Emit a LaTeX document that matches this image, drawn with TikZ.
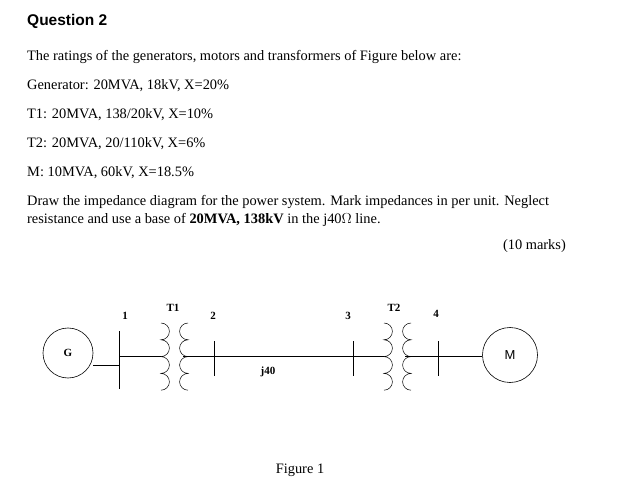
\documentclass[tikz,border=0pt]{standalone}
\usepackage{fontspec}
\setmainfont{Liberation Serif}
\newfontfamily\hd{Liberation Sans}
\begin{document}
\begin{tikzpicture}[x=1pt,y=-1pt,
  txt/.style={anchor=west,inner sep=0,font=\fontsize{14.4}{16}\selectfont},
  lbl/.style={inner sep=0,font=\bfseries\fontsize{11}{12}\selectfont},
  bus/.style={line width=0.8pt},
  wire/.style={line width=0.9pt},
  coil/.style={line width=0.5pt}]
\useasboundingbox (0,0) rectangle (639,502);
\node[txt,font=\hd\bfseries\fontsize{15.5}{17}\selectfont] (q) at (27,21) {Question 2};
\node[txt] (l1) at (27,57) {The ratings of the generators, motors and transformers of Figure below are:};
\node[txt] (l2) at (27,86) {Generator: 20MVA, 18kV, X=20\%};
\node[txt] (l3) at (27,115) {T1: 20MVA, 138/20kV, X=10\%};
\node[txt] (l4) at (27,144) {T2: 20MVA, 20/110kV, X=6\%};
\node[txt] (l5) at (27,173) {M: 10MVA, 60kV, X=18.5\%};
\node[txt] (l6) at (27,202) {Draw the impedance diagram for the power system. Mark impedances in per unit. Neglect};
\node[txt] (l7) at (27,220) {resistance and use a base of \textbf{20MVA, 138kV} in the j40$\Omega$ line.};
\node[txt,anchor=east] (mk) at (566,246) {(10 marks)};
% machines
\node[draw,circle,minimum size=50,inner sep=0,line width=0.6pt] (G) at (68,353) {\bfseries\fontsize{11}{12}\selectfont G};
\node[draw,circle,minimum size=55,inner sep=0,line width=0.6pt] (M) at (510,355) {\hd\fontsize{13}{14}\selectfont M};
% buses
\coordinate (b1t) at (119,331); \coordinate (b1b) at (119,389);
\coordinate (b2t) at (214,341); \coordinate (b2b) at (214,376);
\coordinate (b3t) at (353,341); \coordinate (b3b) at (353,376);
\coordinate (b4t) at (438,341); \coordinate (b4b) at (438,376);
\draw[bus] (b1t) -- (b1b);
\draw[bus] (b2t) -- (b2b);
\draw[bus] (b3t) -- (b3b);
\draw[bus] (b4t) -- (b4b);
\coordinate (g1) at (119,365);
\draw[wire] (G.east |- g1) -- (g1);
\coordinate (t1a) at (161,356); \coordinate (t1b) at (183,356);
\coordinate (t2a) at (384,356); \coordinate (t2b) at (405,356);
\draw[wire] (119,356) -- (t1a);
\draw[wire] (t1b) -- (t2a);
\draw[wire] (t2b) -- (M.west |- t2b);
% coils
\foreach \x in {161,384}{
  \draw[coil] (\x,323) \foreach \i in {1,...,4}{ arc[start angle=-90,end angle=90,radius=8.4] };
  \draw[coil] (\x+27,323) \foreach \i in {1,...,4}{ arc[start angle=-90,end angle=-270,radius=8.4] };
}
\node[lbl] (n1) at (125,316) {1};
\node[lbl] (T1) at (173,308) {T1};
\node[lbl] (n2) at (213,316) {2};
\node[lbl] (n3) at (348,316) {3};
\node[lbl] (T2) at (394,308) {T2};
\node[lbl] (n4) at (436,314) {4};
\node[lbl] (j) at (268,372) {j40};
\node[txt,anchor=center] (fig) at (300,470) {Figure 1};
\end{tikzpicture}
\end{document}
